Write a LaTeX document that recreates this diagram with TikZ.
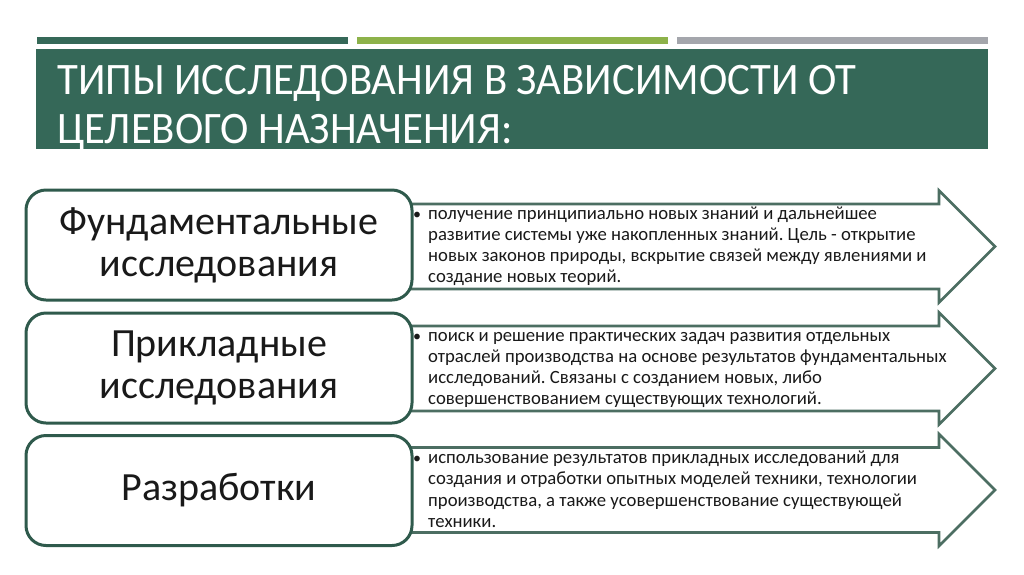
\documentclass[tikz,border=0pt]{standalone}
\usepackage{fontspec}
\setmainfont{Carlito}
\newfontfamily\titlefont[FakeStretch=0.95]{Carlito}
\frenchspacing
\definecolor{dkgreen}{RGB}{53,104,88}
\definecolor{ltgreen}{RGB}{141,178,74}
\definecolor{bargray}{RGB}{164,166,172}
\definecolor{boxline}{RGB}{47,90,76}
\definecolor{arrline}{RGB}{76,110,98}
\definecolor{txt}{RGB}{25,25,25}
\tikzset{
  bar/.style={fill=#1, draw=none},
  titletext/.style={text=white, anchor=base west, inner sep=0pt, font=\titlefont\fontsize{45}{54}\selectfont},
  leftbox/.style={draw=boxline, line width=3pt, fill=white, rounded corners=20pt,
    minimum width=386pt, minimum height=110pt, align=center, text=txt,
    font=\fontsize{40}{42}\selectfont},
  arrowshape/.style={draw=arrline, line width=2.6pt, fill=white, line join=miter},
  bullettext/.style={anchor=base west, inner sep=0pt, align=left, text=txt,
    font=\fontsize{18.7}{21.3}\selectfont},
  bulletmark/.style={anchor=base west, inner sep=0pt, text=txt, font=\fontsize{16}{21}\selectfont},
}
\begin{document}
\begin{tikzpicture}[x=1pt,y=-1pt]
\useasboundingbox (0,0) rectangle (1024,574);
\fill[white] (0,0) rectangle (1024,574);
% top bars
\fill[bar=dkgreen] (37,37) rectangle (348,44);
\fill[bar=ltgreen] (357,37) rectangle (668,44);
\fill[bar=bargray] (677,37) rectangle (988,44);
% title band
\fill[dkgreen] (36,49) rectangle (988,149);
\node[titletext] (t1) at (57,94) {ТИПЫ ИССЛЕДОВАНИЯ В ЗАВИСИМОСТИ ОТ};
\node[titletext] (t2) at (57,143) {ЦЕЛЕВОГО НАЗНАЧЕНИЯ:};
% arrows
\foreach \c/\n in {246.5/1, 368.5/2, 490/3}{
  \draw[arrowshape] (395,\c-42.5) -- (939,\c-42.5) -- (939,\c-56) -- (995,\c)
     -- (939,\c+56) -- (939,\c+42.5) -- (395,\c+42.5) -- cycle;
}
% left boxes
\node[leftbox] (b1) at (219,245) {Фундаментальные\\исследования};
\node[leftbox] (b2) at (219,368) {Прикладные\\исследования};
\node[leftbox] (b3) at (219,490.5) {Разработки};
% descriptions (anchor = baseline of last line)
\node[bulletmark] (m1) at (413,219) {•};
\node[bullettext] (d1) at (428,282.9) {получение принципиально новых знаний и дальнейшее\\развитие системы уже накопленных знаний. Цель - открытие\\новых законов природы, вскрытие связей между явлениями и\\создание новых теорий.};
\node[bulletmark] (m2) at (413,341) {•};
\node[bullettext] (d2) at (428,404.9) {поиск и решение практических задач развития отдельных\\отраслей производства на основе результатов фундаментальных\\исследований. Связаны с созданием новых, либо\\совершенствованием существующих технологий.};
\node[bulletmark] (m3) at (413,463.5) {•};
\node[bullettext] (d3) at (428,527.4) {использование результатов прикладных исследований для\\создания и отработки опытных моделей техники, технологии\\производства, а также усовершенствование существующей\\техники.};
\end{tikzpicture}
\end{document}
